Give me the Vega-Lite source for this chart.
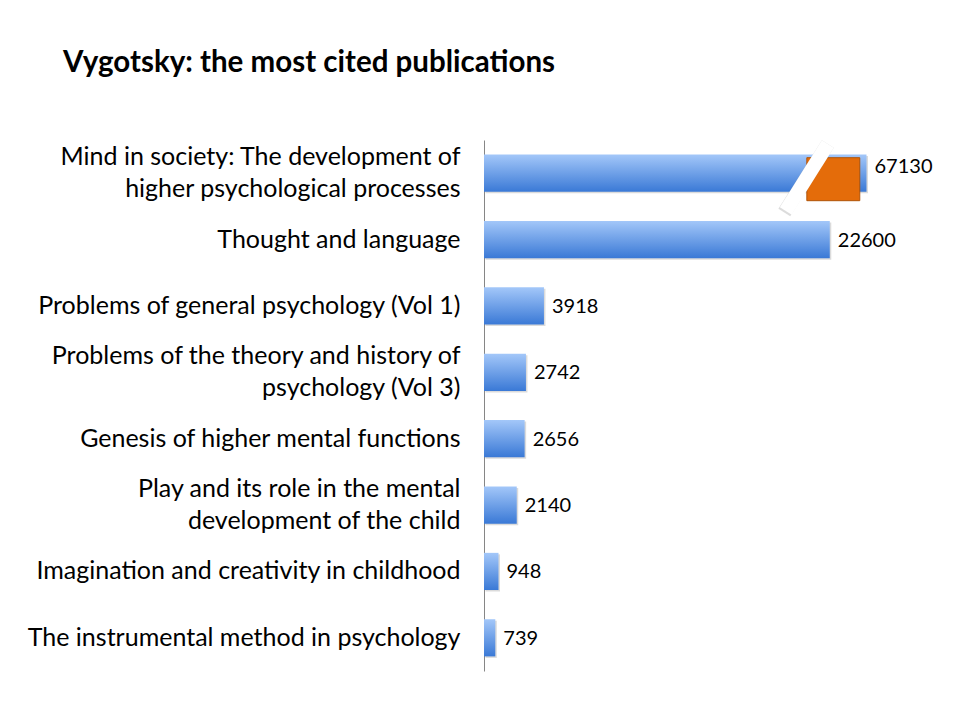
{
  "$schema": "https://vega.github.io/schema/vega-lite/v6.json",
  "autosize": "none",
  "width": 459,
  "height": 531,
  "padding": {"left": 484, "top": 140, "right": 17, "bottom": 49},
  "background": "white",
  "title": {
    "text": "Vygotsky: the most cited publications",
    "anchor": "start",
    "frame": "group",
    "dx": -421,
    "offset": 35,
    "baseline": "alphabetic",
    "font": "Lato",
    "fontSize": 29.5,
    "fontWeight": "bold",
    "color": "#000000"
  },
  "datasets": {
    "pubs": [
      {"rank": 1, "title": "Mind in society: The development of|higher psychological processes", "citations": 67130, "shown": 25000},
      {"rank": 2, "title": "Thought and language", "citations": 22600, "shown": 22600},
      {"rank": 3, "title": "Problems of general psychology (Vol 1)", "citations": 3918, "shown": 3918},
      {"rank": 4, "title": "Problems of the theory and history of|psychology (Vol 3)", "citations": 2742, "shown": 2742},
      {"rank": 5, "title": "Genesis of higher mental functions", "citations": 2656, "shown": 2656},
      {"rank": 6, "title": "Play and its role in the mental|development of the child", "citations": 2140, "shown": 2140},
      {"rank": 7, "title": "Imagination and creativity in childhood", "citations": 948, "shown": 948},
      {"rank": 8, "title": "The instrumental method in psychology", "citations": 739, "shown": 739}
    ],
    "axisbreak": [
      {"slashStart": 19725, "slashEnd": 22470, "rowLow": 1.07, "rowHigh": 0.06}
    ]
  },
  "layer": [
    {
      "data": {"name": "pubs"},
      "layer": [
        {
          "mark": {"type": "bar", "color": "#000000", "opacity": 0.14, "xOffset": 1.5, "yOffset": 1.5},
          "encoding": {
            "y": {
              "field": "title",
              "type": "nominal",
              "sort": {"field": "rank", "op": "min"},
              "scale": {"paddingInner": 0.44, "paddingOuter": 0.22},
              "axis": {
                "title": null,
                "ticks": false,
                "domainColor": "#868686",
                "labelExpr": "split(datum.label, '|')",
                "labelFont": "Lato",
                "labelFontSize": 25,
                "labelColor": "#000000",
                "labelPadding": 24,
                "labelLineHeight": 32,
                "labelLimit": 500,
                "labelOffset": {"condition": {"test": "indexof(datum.value, '|') >= 0", "value": -16}, "value": 0}
              }
            },
            "x": {
              "field": "shown",
              "type": "quantitative",
              "scale": {"domain": [0, 30000], "nice": false},
              "axis": null
            }
          }
        },
        {
          "mark": {
            "type": "bar",
            "color": {
              "gradient": "linear",
              "x1": 0, "y1": 0, "x2": 0, "y2": 1,
              "stops": [
                {"offset": 0, "color": "#a3c7f9"},
                {"offset": 1, "color": "#3a79d6"}
              ]
            }
          },
          "encoding": {
            "y": {"field": "title", "type": "nominal", "sort": {"field": "rank", "op": "min"}},
            "x": {"field": "shown", "type": "quantitative"}
          }
        },
        {
          "transform": [{"filter": "datum.rank == 1"}],
          "mark": {"type": "bar", "color": "#e46c0a", "stroke": "#b05408", "strokeWidth": 1, "height": 43, "yOffset": 6},
          "encoding": {
            "y": {"field": "title", "type": "nominal", "sort": {"field": "rank", "op": "min"}},
            "x": {"datum": 21100, "type": "quantitative"},
            "x2": {"datum": 24560}
          }
        },
        {
          "transform": [{"filter": "datum.rank == 1"}],
          "mark": {"type": "text", "align": "left", "baseline": "middle", "dx": 8, "dy": -6, "font": "Lato", "fontSize": 20, "color": "#000000"},
          "encoding": {
            "y": {"field": "title", "type": "nominal", "sort": {"field": "rank", "op": "min"}},
            "x": {"field": "shown", "type": "quantitative"},
            "text": {"field": "citations", "type": "nominal"}
          }
        },
        {
          "transform": [{"filter": "datum.rank > 1"}],
          "mark": {"type": "text", "align": "left", "baseline": "middle", "dx": 8, "dy": 1, "font": "Lato", "fontSize": 20, "color": "#000000"},
          "encoding": {
            "y": {"field": "title", "type": "nominal", "sort": {"field": "rank", "op": "min"}},
            "x": {"field": "shown", "type": "quantitative"},
            "text": {"field": "citations", "type": "nominal"}
          }
        }
      ]
    },
    {
      "data": {"name": "axisbreak"},
      "layer": [
        {
          "mark": {"type": "rule", "color": "#9a9a9a", "opacity": 0.35, "strokeWidth": 14, "strokeCap": "butt", "xOffset": -1.5, "yOffset": 1.5}
        },
        {
          "mark": {"type": "rule", "color": "white", "strokeWidth": 14, "strokeCap": "butt"}
        }
      ],
      "encoding": {
        "x": {"field": "slashStart", "type": "quantitative"},
        "x2": {"field": "slashEnd"},
        "y": {"field": "rowLow", "type": "quantitative", "scale": {"domain": [0, 8], "reverse": true, "nice": false, "zero": false}, "axis": null},
        "y2": {"field": "rowHigh"}
      }
    }
  ],
  "resolve": {"scale": {"y": "independent"}},
  "config": {
    "view": {"stroke": null}
  }
}
